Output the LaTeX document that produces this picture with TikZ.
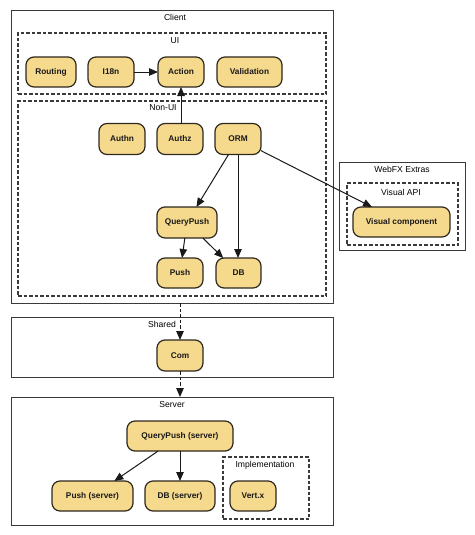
\documentclass[tikz,border=0pt]{standalone}
\usepackage{fontspec}
\setmainfont{Liberation Sans}
\usetikzlibrary{arrows.meta}
\definecolor{nodefill}{HTML}{F5D98D}
\definecolor{nodeline}{HTML}{2E281E}
\definecolor{boxline}{HTML}{3A3A3A}
\tikzset{
  comp/.style={draw=nodeline, fill=nodefill, line width=1.2pt, rounded corners=8pt,
    inner sep=0pt, outer sep=0pt, font=\bfseries\fontsize{8.3}{9}\selectfont, text=black!90},
  cluster/.style={draw=boxline, line width=1pt, inner sep=0pt, outer sep=0pt},
  dcluster/.style={cluster, dash pattern=on 3.5pt off 2pt, line width=1.1pt},
  clabel/.style={font=\fontsize{8.6}{9}\selectfont, text=black, inner sep=0pt},
  conn/.style={draw=black!90, line width=1pt, -{Triangle[length=9pt,width=7.5pt]}},
  dconn/.style={conn, dash pattern=on 3.5pt off 2pt},
}
\begin{document}
\begin{tikzpicture}[x=1pt,y=-1pt]
\useasboundingbox[fill=white] (0,0) rectangle (474,535);
% clusters
\node[cluster, minimum width=322pt, minimum height=292pt] (client) at (172,157) {};
\node[dcluster, minimum width=308pt, minimum height=61pt] (ui) at (172,63.5) {};
\node[dcluster, minimum width=308pt, minimum height=195pt] (nonui) at (172,198.5) {};
\node[cluster, minimum width=126pt, minimum height=88pt] (webfx) at (402,206) {};
\node[dcluster, minimum width=111pt, minimum height=62pt] (visapi) at (402.5,214) {};
\node[cluster, minimum width=322pt, minimum height=60pt] (shared) at (172,347) {};
\node[cluster, minimum width=322pt, minimum height=128pt] (server) at (172,461) {};
\node[dcluster, minimum width=86pt, minimum height=62pt] (impl) at (266,488) {};
% cluster labels
\node[clabel] (lclient) at (175,17.5) {Client};
\node[clabel] (lui) at (175,41) {UI};
\node[clabel] (lnonui) at (163,107.5) {Non-UI};
\node[clabel] (lwebfx) at (402,169) {WebFX Extras};
\node[clabel] (lvisapi) at (401,192) {Visual API};
\node[clabel] (lshared) at (162,324.5) {Shared};
\node[clabel] (lserver) at (172,404.5) {Server};
\node[clabel] (limpl) at (265,465) {Implementation};
% components
\node[comp, minimum width=50pt, minimum height=30pt] (routing) at (51,72) {Routing};
\node[comp, minimum width=46pt, minimum height=30pt] (i18n) at (111,72) {I18n};
\node[comp, minimum width=46pt, minimum height=30pt] (action) at (181,72) {Action};
\node[comp, minimum width=65pt, minimum height=30pt] (validation) at (249.5,72) {Validation};
\node[comp, minimum width=46pt, minimum height=31pt] (authn) at (122,139) {Authn};
\node[comp, minimum width=46pt, minimum height=31pt] (authz) at (180,139) {Authz};
\node[comp, minimum width=46pt, minimum height=31pt] (orm) at (238,139) {ORM};
\node[comp, minimum width=60pt, minimum height=31pt] (qp) at (187,222.5) {QueryPush};
\node[comp, minimum width=46pt, minimum height=30pt] (push) at (180,273) {Push};
\node[comp, minimum width=45pt, minimum height=30pt] (db) at (238.5,273) {DB};
\node[comp, minimum width=97pt, minimum height=30pt] (vc) at (401.5,222) {Visual component};
\node[comp, minimum width=46pt, minimum height=31pt] (com) at (180,355.5) {Com};
\node[comp, minimum width=106pt, minimum height=30pt] (qps) at (180,436) {QueryPush (server)};
\node[comp, minimum width=81pt, minimum height=30pt] (pushs) at (92.5,496) {Push (server)};
\node[comp, minimum width=70pt, minimum height=30pt] (dbs) at (180,496) {DB (server)};
\node[comp, minimum width=46pt, minimum height=30pt] (vertx) at (253,496) {Vert.x};
% connectors
\draw[conn] (i18n) -- (action);
\draw[conn] (authz.north -| action.south) -- (action.south);
\draw[conn] (orm) -- (qp);
\draw[conn] (orm) -- (orm |- db.north);
\draw[conn] (orm) -- (vc);
\draw[conn] (qp) -- (push);
\draw[conn] (qp) -- (db);
\draw[dconn] (client.south -| com.north) -- (com.north);
\draw[dconn] (com.south) -- (com.south |- server.north);
\draw[conn] (qps) -- (pushs);
\draw[conn] (qps) -- (dbs);
\end{tikzpicture}
\end{document}
